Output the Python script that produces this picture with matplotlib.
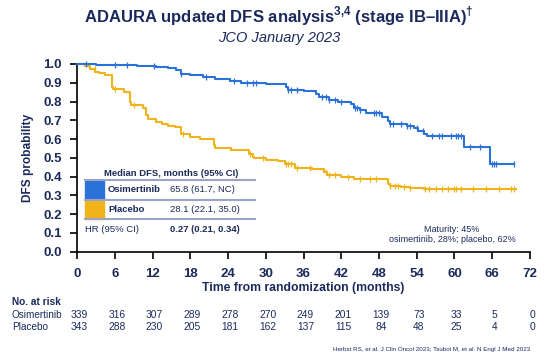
import numpy as np
import matplotlib
matplotlib.use("Agg")
import matplotlib.pyplot as plt
from matplotlib.patches import Rectangle
from matplotlib.lines import Line2D

plt.rcParams['font.family'] = ['Liberation Sans', 'DejaVu Sans']
plt.rcParams['mathtext.fontset'] = 'custom'
plt.rcParams['mathtext.rm'] = 'Liberation Sans'
plt.rcParams['mathtext.bf'] = 'Liberation Sans:bold'

NAVY = '#1B2A5C'
BLUE = '#2A72D8'
GOLD = '#F0B31A'
RULE = '#9BA4C4'

# Kaplan-Meier step points (months, DFS probability)
osi_t = [0, 3, 6, 9.5, 12.5, 14.5, 15.8, 16.5, 18, 20, 22, 24.3, 26, 30, 33.2, 33.5, 36, 38,
         38.4, 40, 41.5, 43.5, 44, 45, 46, 48.5, 49.5, 49.8, 52.5, 53.5, 54.2, 55.2, 55.6,
         61.5, 65.7, 69.4]
osi_s = [1.0, 0.997, 0.995, 0.99, 0.985, 0.977, 0.97, 0.945, 0.94, 0.93, 0.92, 0.907, 0.90,
         0.893, 0.875, 0.863, 0.855, 0.84, 0.825, 0.81, 0.80, 0.785, 0.765, 0.755, 0.738,
         0.72, 0.695, 0.68, 0.67, 0.66, 0.645, 0.628, 0.617, 0.56, 0.466, 0.466]
pla_t = [0, 1.3, 2.0, 2.9, 3.5, 4.5, 5.5, 5.8, 7.5, 8.4, 8.6, 10.5, 11.0, 11.3, 12.5, 13.5,
         14.5, 15.5, 16.6, 18, 19.5, 21.8, 22.0, 24.5, 27.4, 27.9, 28.1, 30, 32, 33, 34.6,
         37.3, 39.3, 39.7, 42, 44, 49.5, 49.8, 51.5, 53, 55.1, 69.7]
pla_s = [1.0, 0.99, 0.975, 0.96, 0.952, 0.94, 0.88, 0.865, 0.85, 0.80, 0.78, 0.765, 0.73,
         0.705, 0.69, 0.68, 0.672, 0.665, 0.625, 0.61, 0.60, 0.57, 0.553, 0.543, 0.52, 0.505,
         0.498, 0.49, 0.485, 0.466, 0.445, 0.44, 0.425, 0.41, 0.40, 0.385, 0.36, 0.35, 0.345,
         0.34, 0.335, 0.335]

# censoring times
osi_cens = [1.5, 6, 8, 12.3, 16.5, 20.5, 25, 27, 28, 28.5, 33.5, 34, 35, 39, 39.5, 40, 41,
            42, 44.2, 44.5, 45, 47.2, 47.6, 48, 49.8, 50.2, 51.5, 52.5, 53, 54, 55, 56.5,
            57.5, 58, 59.5, 60.3, 60.6, 61, 62.5, 64, 66, 66.3, 66.6, 69.4]
pla_cens = [2.8, 6, 9, 16.8, 27.5, 29.5, 33.2, 33.5, 34, 35, 37, 39.5, 40, 41, 43, 45, 46.5,
            47.5, 49.8, 50.5, 51, 52, 53, 55.3, 56, 57, 58, 59, 60, 60.3, 61, 63, 65, 67, 69,
            69.5]

risk_times = [0, 6, 12, 18, 24, 30, 36, 42, 48, 54, 60, 66, 72]
osi_risk = [339, 316, 307, 289, 278, 270, 249, 201, 139, 73, 33, 5, 0]
pla_risk = [343, 288, 230, 205, 181, 162, 137, 115, 84, 48, 25, 4, 0]

W, H = 551, 352


def fp(x, y):
    return x / W, 1 - y / H


def step_at(ts, ss, t):
    i = np.searchsorted(ts, t, side='right') - 1
    return np.array(ss)[i]


fig = plt.figure(figsize=(W / 100, H / 100), dpi=100)
x0, y0 = fp(77, 251.7)
x1, y1 = fp(530, 64)
ax = fig.add_axes([x0, y0, x1 - x0, y1 - y0])

for ts, ss, cens, col in [(pla_t, pla_s, pla_cens, GOLD), (osi_t, osi_s, osi_cens, BLUE)]:
    ax.plot(ts, ss, drawstyle='steps-post', color=col, lw=1.5, clip_on=False, zorder=3)
    cy = [step_at(ts, ss, c) for c in cens]
    ax.plot(cens, cy, ls='none', marker='|', ms=5, mew=0.9, color=col, clip_on=False, zorder=3)

ax.set_xlim(0, 72)
ax.set_ylim(0, 1.0)
ax.set_xticks(risk_times)
ax.set_yticks(np.arange(0, 1.01, 0.1))
ax.set_yticklabels([f'{v:.1f}' for v in np.arange(0, 1.01, 0.1)])
for s in ['top', 'right']:
    ax.spines[s].set_visible(False)
for s in ['left', 'bottom']:
    ax.spines[s].set_color('black')
    ax.spines[s].set_linewidth(1.2)
ax.tick_params(axis='x', length=5, width=1.2, pad=7, labelsize=9.5, labelcolor=NAVY)
ax.tick_params(axis='y', length=5, width=1.2, pad=6, labelsize=9.5, labelcolor=NAVY)
for lab in ax.get_xticklabels() + ax.get_yticklabels():
    lab.set_fontweight('bold')
ax.set_xlabel('Time from randomization (months)', fontsize=8.8, fontweight='bold',
              color=NAVY, labelpad=1)
ax.set_ylabel('DFS probability', fontsize=8.6, fontweight='bold', color=NAVY)
ax.yaxis.set_label_coords((34 - 77) / 453, 0.5)

# titles
fig.text(*fp(279, 16), 'ADAURA updated DFS analysis$^{\\mathbf{3{,}4}}$ (stage IB\u2013IIIA)$^{\\mathbf{\u2020}}$',
         ha='center', va='center', fontsize=12, fontweight='bold', color=NAVY)
fig.text(*fp(279, 38), 'JCO January 2023', ha='center', va='center', fontsize=10.5,
         style='italic', color=NAVY)

# median table
fig.text(*fp(171, 173), 'Median DFS, months (95% CI)', ha='center', va='center',
         fontsize=6.8, fontweight='bold', color=NAVY)
for yy in [180, 200, 219]:
    xa, ya = fp(85, yy)
    xb, _ = fp(255, yy)
    fig.add_artist(Line2D([xa, xb], [ya, ya], color=RULE, lw=1.5, transform=fig.transFigure))
for ytop, col, name, val in [(181, BLUE, 'Osimertinib', '65.8 (61.7, NC)'),
                             (201, GOLD, 'Placebo', '28.1 (22.1, 35.0)')]:
    xa, ya = fp(85, ytop + 18)
    fig.add_artist(Rectangle((xa, ya), 19 / W, 18 / H, color=col, transform=fig.transFigure))
    fig.text(*fp(108, ytop + 9), name, ha='left', va='center', fontsize=6.8,
             fontweight='bold', color=NAVY)
    fig.text(*fp(170, ytop + 9), val, ha='left', va='center', fontsize=6.8, color=NAVY)
fig.text(*fp(85, 229), 'HR (95% CI)', ha='left', va='center', fontsize=6.8, color=NAVY)
fig.text(*fp(170, 229), '0.27 (0.21, 0.34)', ha='left', va='center', fontsize=6.8,
         fontweight='bold', color=NAVY)

fig.text(*fp(452, 229), 'Maturity: 45%', ha='center', va='center', fontsize=6.5, color=NAVY)
fig.text(*fp(452, 240), 'osimertinib, 28%; placebo, 62%', ha='center', va='center',
         fontsize=6.5, color=NAVY)

# number at risk
fig.text(*fp(12, 302), 'No. at risk', ha='left', va='center', fontsize=7.3,
         fontweight='bold', color=NAVY)
for yy, name, vals in [(315, 'Osimertinib', osi_risk), (327, 'Placebo', pla_risk)]:
    fig.text(*fp(12, yy), name, ha='left', va='center', fontsize=7.2, color=NAVY)
    for t, v in zip(risk_times, vals):
        xd = ax.transData.transform((t, 0))[0]
        fig.text(xd / fig.dpi / fig.get_figwidth() + 2 / W, 1 - yy / H, str(v), ha='center',
                 va='center', fontsize=7.4, color=NAVY)

fig.text(*fp(530, 347), 'Herbst RS, et al. J Clin Oncol 2023; Tsuboi M, et al. N Engl J Med 2023',
         ha='right', va='top', fontsize=4.5, color=NAVY)

fig.savefig('out.png', dpi=100)
